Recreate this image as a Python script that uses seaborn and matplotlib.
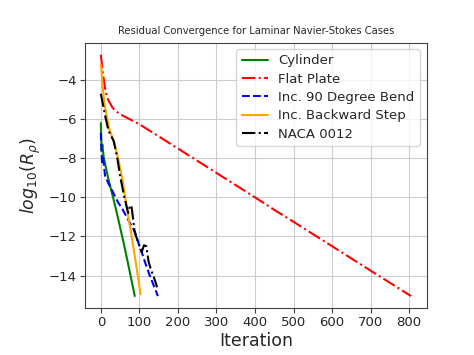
import pandas as pd
import matplotlib
matplotlib.use("Agg")
import matplotlib.pyplot as plt
import seaborn as sns

# residual histories
cyl_it = [0, 2, 4, 6, 8, 20, 33, 45, 60, 75, 88]
cyl_res = [-6.2, -7.6, -7.3, -7.7, -8.0, -9.1, -10.1, -11.1, -12.4, -13.8, -15.05]

fp_it = [0, 5, 10, 15, 20, 30, 37, 50, 70, 101, 200, 300, 400, 463, 500, 600, 700, 805]
fp_res = [-2.7, -3.6, -4.3, -4.8, -5.05, -5.4, -5.56, -5.75, -5.95, -6.27, -7.5, -8.75, -10.0, -10.8, -11.25, -12.5, -13.75, -15.05]

bend_it = [0, 3, 6, 11, 20, 28, 38, 46, 56, 67, 78, 89, 97, 106, 116, 127, 137, 148]
bend_res = [-6.7, -8.2, -8.0, -8.9, -9.3, -9.6, -10.0, -10.3, -10.6, -11.0, -11.4, -11.8, -12.3, -12.8, -13.4, -14.0, -14.5, -15.05]

step_it = [0, 2, 5, 10, 22, 35, 46, 57, 67, 80, 92, 103]
step_res = [-3.2, -3.6, -4.4, -5.3, -6.5, -7.2, -8.1, -9.2, -10.5, -12.0, -13.5, -14.95]

naca_it = [0, 5, 12, 20, 33, 42, 50, 60, 71, 76, 80, 88, 97, 106, 112, 118, 124, 130, 138, 146]
naca_res = [-4.7, -5.2, -5.9, -6.6, -7.1, -7.9, -8.9, -9.9, -10.8, -10.4, -10.5, -11.8, -12.3, -12.8, -12.45, -12.5, -13.3, -13.7, -14.1, -14.6]

cases = ["Cylinder", "Flat Plate", "Inc. 90 Degree Bend", "Inc. Backward Step", "NACA 0012"]
colors = ["green", "red", "blue", "orange", "black"]
styles = ["-", "-.", "--", "-", "-."]
series = [(cyl_it, cyl_res), (fp_it, fp_res), (bend_it, bend_res), (step_it, step_res), (naca_it, naca_res)]

sns.set_style("whitegrid", {"axes.edgecolor": "0.25", "grid.color": "0.8",
                            "xtick.bottom": True, "ytick.left": True})
plt.rcParams["font.family"] = ["DejaVu Sans"]

fig, ax = plt.subplots(figsize=(4.74, 3.55), dpi=100)
fig.subplots_adjust(left=0.18, right=0.90, bottom=0.132, top=0.88)

for name, col, ls, (it, res) in zip(cases, colors, styles, series):
    df = pd.DataFrame({"Iteration": it, "res": res})
    sns.lineplot(data=df, x="Iteration", y="res", color=col, linestyle=ls,
                 linewidth=1.5, label=name, ax=ax, sort=False)

ax.set_title("Residual Convergence for Laminar Navier-Stokes Cases", fontsize=7.2)
ax.set_xlabel("Iteration", fontsize=12.5, labelpad=2)
ax.set_ylabel(r"$log_{10}(R_\rho)$", fontsize=12.5)
ax.set_xticks(range(0, 801, 100))
ax.set_yticks(range(-14, -3, 2))
ax.tick_params(labelsize=9.5, length=3.5, color="0.25", pad=2.5)
ax.legend(loc="upper right", fontsize=9.5, frameon=True, handlelength=2.0,
          labelspacing=0.4)

fig.savefig("out.png", dpi=100)
